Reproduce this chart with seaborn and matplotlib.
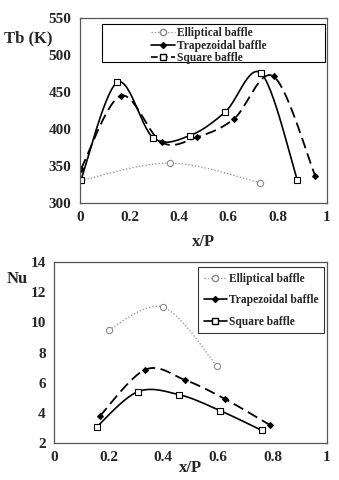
import numpy as np
import pandas as pd
import matplotlib
matplotlib.use("Agg")
import matplotlib.pyplot as plt
from matplotlib.lines import Line2D
from matplotlib.patches import Rectangle
import seaborn as sns

# ---- data ----
# Tb (K) along x/P
tb_ell_x = [0.004, 0.366, 0.729]
tb_ell_y = [330.5, 354, 327.5]
tb_trap_x = [0.004, 0.165, 0.330, 0.474, 0.623, 0.784, 0.953]
tb_trap_y = [346, 445, 382, 389, 413.5, 471, 336]
tb_sq_x = [0.004, 0.151, 0.297, 0.444, 0.588, 0.734, 0.880]
tb_sq_y = [331.5, 463, 388, 391, 423, 475, 331]

# Nu along x/P
nu_ell_x = [0.200, 0.400, 0.598]
nu_ell_y = [9.51, 11.0, 7.08]
nu_trap_x = [0.167, 0.334, 0.480, 0.626, 0.793]
nu_trap_y = [3.77, 6.86, 6.18, 4.92, 3.17]
nu_sq_x = [0.157, 0.307, 0.459, 0.609, 0.761]
nu_sq_y = [3.08, 5.40, 5.20, 4.14, 2.84]

x_ticks = [0, 0.2, 0.4, 0.6, 0.8, 1]
tb_ticks = [300, 350, 400, 450, 500, 550]
nu_ticks = [2, 4, 6, 8, 10, 12, 14]


def smooth(xs, ys, n=30):
    # Catmull-Rom curve through the points (like a spreadsheet "smoothed line")
    p = np.column_stack([xs, ys]).astype(float)
    p = np.vstack([p[0], p, p[-1]])
    out = []
    t = np.linspace(0, 1, n)[:, None]
    for i in range(1, len(p) - 2):
        p0, p1, p2, p3 = p[i - 1], p[i], p[i + 1], p[i + 2]
        seg = 0.5 * ((2 * p1) + (-p0 + p2) * t + (2 * p0 - 5 * p1 + 4 * p2 - p3) * t ** 2
                     + (-p0 + 3 * p1 - 3 * p2 + p3) * t ** 3)
        out.append(seg)
    c = np.vstack(out)
    return pd.DataFrame({"x": c[:, 0], "y": c[:, 1]})


sns.set_style("white")
plt.rcParams["font.family"] = ["Liberation Serif", "DejaVu Serif"]
plt.rcParams["font.weight"] = "bold"

fig = plt.figure(figsize=(3.39, 4.80), dpi=100)
ax1 = fig.add_axes([80 / 339, 1 - 203 / 480, 247 / 339, 185 / 480])
ax2 = fig.add_axes([54 / 339, 1 - 443 / 480, 273 / 339, 181 / 480])

grey = "#8a8a8a"


def draw(ax, x, y, ls, lw, color, marker, face, ms):
    sns.lineplot(data=smooth(x, y), x="x", y="y", sort=False, ax=ax, color=color,
                 linestyle=ls, linewidth=lw, estimator=None)
    ax.plot(x, y, linestyle="none", marker=marker, markersize=ms,
            markerfacecolor=face, markeredgecolor=color, markeredgewidth=0.8)


# top panel
draw(ax1, tb_ell_x, tb_ell_y, ":", 0.9, grey, "o", "white", 4.5)
draw(ax1, tb_trap_x, tb_trap_y, (0, (6, 3)), 1.3, "black", "D", "black", 3)
draw(ax1, tb_sq_x, tb_sq_y, "-", 1.2, "black", "s", "white", 4.5)

# bottom panel
draw(ax2, nu_ell_x, nu_ell_y, ":", 0.9, grey, "o", "white", 4.5)
draw(ax2, nu_trap_x, nu_trap_y, (0, (6, 3)), 1.3, "black", "D", "black", 3)
draw(ax2, nu_sq_x, nu_sq_y, "-", 1.2, "black", "s", "white", 4.5)

for ax, ticks in [(ax1, tb_ticks), (ax2, nu_ticks)]:
    ax.set_xlim(0, 1)
    ax.set_ylim(ticks[0], ticks[-1])
    ax.set_xticks(x_ticks)
    ax.set_xticklabels(["0", "0.2", "0.4", "0.6", "0.8", "1"])
    ax.set_yticks(ticks)
    ax.tick_params(length=0, labelsize=11, pad=6)
    for lab in ax.get_xticklabels() + ax.get_yticklabels():
        lab.set_fontweight("bold")
    for s in ax.spines.values():
        s.set_color("#555555")
        s.set_linewidth(0.9)

ax1.set_xlabel("x/P", fontsize=12, fontweight="bold")
ax1.xaxis.set_label_coords(0.5, -0.165)
ax1.set_ylabel("Tb (K)", fontsize=12, fontweight="bold", rotation=0, ha="center", va="center")
ax1.yaxis.set_label_coords(-0.21, 0.89)

ax2.set_xlabel("x/P", fontsize=12, fontweight="bold")
ax2.xaxis.set_label_coords(0.5, -0.095)
ax2.set_ylabel("Nu", fontsize=12, fontweight="bold", rotation=0, ha="center", va="center")
ax2.yaxis.set_label_coords(-0.135, 0.905)


def handle(ls, lw, color, marker, face, ms):
    return Line2D([], [], linestyle=ls, linewidth=lw, color=color, marker=marker,
                  markersize=ms, markerfacecolor=face, markeredgecolor=color)


names = ["Elliptical baffle", "Trapezoidal baffle", "Square baffle"]
top_handles = [handle(":", 0.9, grey, "o", "white", 4.5),
               handle("-", 1.2, "black", "D", "black", 3),
               handle((0, (4, 2)), 1.2, "black", "s", "white", 4.5)]
bot_handles = [handle(":", 0.9, grey, "o", "white", 4.5),
               handle("-", 1.2, "black", "D", "black", 3),
               handle("-", 1.2, "black", "s", "white", 4.5)]

# wide box behind the top legend, entries sit in its middle
ax1.add_patch(Rectangle((0.089, 0.76), 0.903, 0.208, transform=ax1.transAxes,
                        facecolor="white", edgecolor="black", linewidth=0.8, zorder=4))
leg1 = ax1.legend(top_handles, names, loc="upper left",
                  bbox_to_anchor=(0.28, 0.962),
                  fontsize=8.3, frameon=False, borderpad=0.2,
                  labelspacing=0.02, handlelength=2.0, handletextpad=0.2,
                  borderaxespad=0)
leg1.set_zorder(5)
for t in leg1.get_texts():
    t.set_fontweight("bold")

leg2 = ax2.legend(bot_handles, names, loc="upper right",
                  bbox_to_anchor=(0.99, 0.97),
                  fontsize=8.3, frameon=True, fancybox=False, borderpad=0.5,
                  labelspacing=0.8, handlelength=2.0, handletextpad=0.2,
                  borderaxespad=0)
leg2.get_frame().set_edgecolor("black")
leg2.get_frame().set_linewidth(0.8)
for t in leg2.get_texts():
    t.set_fontweight("bold")

fig.savefig("out.png", dpi=100)
